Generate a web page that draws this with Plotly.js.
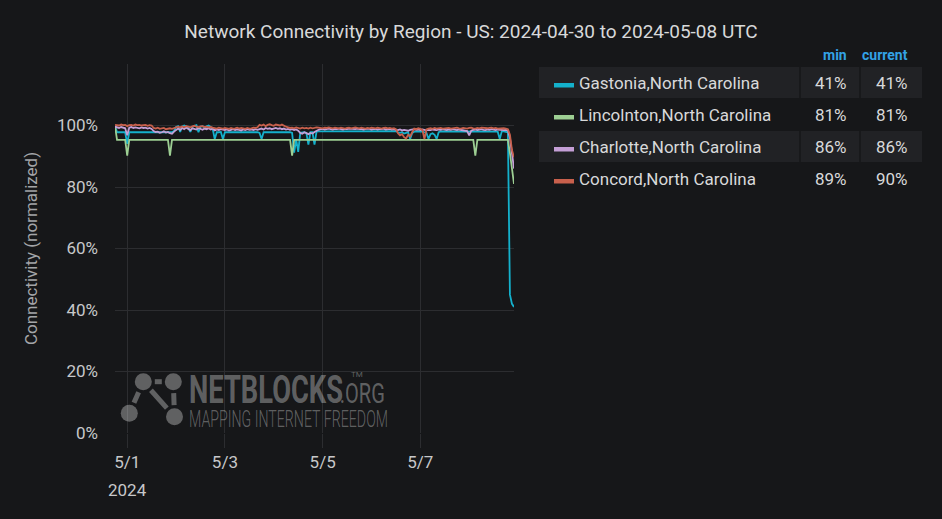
<!DOCTYPE html>
<html><head><meta charset="utf-8">
<script src="https://cdn.plot.ly/plotly-3.0.1.min.js"></script>
<style>html,body{margin:0;padding:0;background:#161719;}#chart{width:942px;height:519px;}</style>
</head><body><div id="chart"></div>
<script>
// ---------- data ----------
const regionNames = ['Gastonia,North Carolina','Lincolnton,North Carolina','Charlotte,North Carolina','Concord,North Carolina'];
const minValues = ['41%','81%','86%','89%'];
const currentValues = ['41%','81%','86%','90%'];
const startTime = Date.UTC(2024, 3, 30, 18, 0); // hourly samples from 2024-04-30 18:00 UTC
const xTickVals = ['2024-05-01','2024-05-03','2024-05-05','2024-05-07'];
const xTickText = ['5/1','5/3','5/5','5/7'];
const yTickVals = [0,20,40,60,80,100,120];
const yTickText = ['0%','20%','40%','60%','80%','100%',''];

const gastonia = [
99.9,97.8,97.8,97.9,97.8,97.8,94.0,97.8,97.8,97.9,
97.8,97.8,97.9,97.8,97.8,97.8,97.9,97.8,97.8,97.8,
97.8,97.9,97.8,97.8,97.8,97.9,97.8,97.8,97.8,98.2,
99.5,99.8,97.9,99.6,100.0,99.7,99.4,97.9,99.5,99.9,
100.1,97.8,99.6,99.8,99.3,99.7,100.0,99.5,98.8,95.6,
97.8,97.8,97.9,95.6,97.8,97.8,97.9,97.8,97.8,97.8,
97.9,97.8,97.8,97.8,97.9,97.8,97.8,97.8,97.9,97.8,
97.8,97.6,95.6,97.8,97.8,97.9,97.8,97.8,97.8,97.9,
97.8,97.8,97.8,97.9,97.8,97.8,97.8,97.6,91.2,95.5,
91.4,97.6,97.8,97.8,97.6,93.8,97.8,97.8,93.8,98.0,
98.1,98.1,98.2,98.1,98.1,98.0,98.1,98.1,98.2,98.1,
98.1,98.0,98.1,98.1,98.2,98.1,98.1,98.0,98.1,98.1,
98.2,98.1,98.1,98.0,98.1,98.1,98.2,98.1,98.1,98.0,
98.1,98.1,98.2,98.1,98.1,98.0,98.1,98.1,98.2,97.8,
97.6,97.8,97.4,97.6,97.8,95.6,97.6,98.0,98.1,98.1,
98.0,98.1,97.8,97.6,95.6,97.2,97.5,97.0,95.6,97.8,
98.1,98.1,98.2,98.1,98.1,98.0,98.1,98.1,98.2,98.1,
98.1,98.0,98.1,98.1,98.2,98.1,98.1,98.0,98.1,98.1,
98.2,98.1,98.1,98.0,98.1,98.1,98.2,98.1,98.0,95.6,
98.1,98.1,98.0,97.8,45.0,42.0,41.0];

const lincolnton = [
99.8,95.3,95.3,95.3,95.3,95.3,90.2,95.3,95.3,95.3,
95.3,95.3,95.3,95.3,95.3,95.3,95.3,95.3,95.3,95.3,
95.3,95.3,95.3,95.3,95.3,95.3,95.3,90.2,95.3,95.3,
95.3,95.3,95.3,95.3,95.3,95.3,95.3,95.3,95.3,95.3,
95.3,95.3,95.3,95.3,95.3,95.3,95.3,95.3,95.3,95.3,
95.3,95.3,95.3,95.3,95.3,95.3,95.3,95.3,95.3,95.3,
95.3,95.3,95.3,95.3,95.3,95.3,95.3,95.3,95.3,95.3,
95.3,95.3,95.3,95.3,95.3,95.3,95.3,95.3,95.3,95.3,
95.3,95.3,95.3,95.3,95.3,95.3,95.3,90.2,95.3,95.3,
95.3,95.3,95.3,95.3,95.3,95.3,95.3,95.3,95.3,95.3,
95.3,95.3,95.3,95.3,95.3,95.3,95.3,95.3,95.3,95.3,
95.3,95.3,95.3,95.3,95.3,95.3,95.3,95.3,95.3,95.3,
95.3,95.3,95.3,95.3,95.3,95.3,95.3,95.3,95.3,95.3,
95.3,95.3,95.3,95.3,95.3,95.3,95.3,95.3,95.3,95.3,
95.3,95.3,95.3,95.3,95.3,95.3,95.3,95.3,95.3,95.3,
95.3,95.3,95.3,95.3,95.3,95.3,95.3,95.3,95.3,95.3,
95.3,95.3,95.3,95.3,95.3,95.3,95.3,95.3,95.3,95.3,
95.3,95.3,95.3,95.3,95.3,95.3,95.3,90.2,95.3,95.3,
95.3,95.3,95.3,95.3,95.3,95.3,95.3,95.3,95.3,95.3,
95.3,95.3,95.3,95.3,91.0,86.0,81.0];

const charlotte = [
99.6,99.4,99.2,99.5,99.3,99.1,96.8,99.3,99.5,99.2,
99.4,99.3,99.1,99.4,99.2,99.3,99.0,99.2,98.9,98.2,
97.9,98.0,97.6,97.8,98.1,97.7,97.9,97.5,97.3,98.0,
98.6,99.0,98.6,99.2,98.8,99.3,98.9,98.5,99.1,99.0,
98.7,99.2,98.9,98.6,99.0,98.8,99.1,98.7,99.0,98.4,
98.7,98.5,98.8,98.6,98.5,98.7,98.4,98.6,98.8,98.5,
98.7,98.6,98.4,98.7,98.5,98.8,98.6,98.7,98.5,98.8,
98.6,98.8,99.0,98.7,99.2,98.9,99.1,98.8,99.0,99.2,
98.9,99.1,98.8,99.0,98.7,98.9,98.6,98.8,98.5,98.7,
98.3,97.6,97.3,97.8,97.5,97.2,97.6,97.4,97.9,98.3,
98.6,98.8,98.9,98.7,98.9,99.0,98.8,98.7,98.9,98.8,
99.0,98.8,98.7,98.9,98.8,99.0,98.9,98.7,98.8,99.0,
98.8,98.9,98.7,98.8,99.0,98.9,98.7,98.8,98.9,98.7,
98.9,98.8,99.0,98.7,98.8,98.9,98.7,98.8,98.6,98.5,
98.7,98.4,98.6,98.5,98.3,98.6,98.7,98.8,98.6,98.7,
98.5,98.7,98.6,98.4,98.6,98.5,98.7,98.6,98.5,98.7,
98.6,98.8,98.6,98.5,98.7,98.6,98.8,98.6,98.5,98.7,
98.6,98.4,98.5,98.2,96.8,98.3,98.6,98.7,98.5,98.6,
98.8,98.6,98.5,98.7,98.6,98.8,98.6,98.5,98.7,98.6,
98.7,98.5,98.6,98.4,96.0,91.0,86.0];

const concord = [
100.2,100.2,100.0,100.3,100.1,100.2,99.8,100.1,100.2,100.0,
100.3,100.1,100.2,100.0,100.1,100.2,99.9,100.1,100.0,99.2,
99.0,99.3,98.9,99.1,99.2,98.8,99.0,99.1,98.9,99.2,
99.4,99.6,99.4,99.7,99.5,99.8,99.6,99.4,99.7,99.9,
99.6,99.5,99.7,99.8,99.5,99.6,99.4,99.5,99.3,99.2,
99.0,99.3,99.1,99.0,99.2,99.1,98.9,99.2,99.0,99.1,
99.3,99.0,99.2,99.1,98.9,99.2,99.0,99.1,99.3,99.2,
99.4,100.2,100.0,100.3,99.8,100.2,100.4,100.1,99.9,100.3,
100.2,100.0,100.3,99.9,99.6,99.4,99.2,99.3,99.1,99.4,
99.2,99.0,99.3,99.1,99.2,99.0,99.3,99.1,99.2,99.4,
99.3,99.2,99.1,99.3,99.2,99.4,99.2,99.1,99.3,99.2,
99.1,99.3,99.2,99.0,99.2,99.3,99.1,99.2,99.4,99.2,
99.1,99.3,99.2,99.0,99.2,99.1,99.3,99.2,99.1,99.3,
99.2,99.0,99.2,99.3,99.1,99.2,99.0,99.1,98.8,97.5,
96.8,97.2,96.2,95.8,97.0,96.5,97.8,99.0,98.8,99.1,
98.9,98.6,95.6,98.7,99.0,99.1,98.9,99.2,99.0,99.1,
99.2,99.0,99.1,99.3,99.2,99.0,99.1,99.2,99.3,99.1,
99.0,99.2,99.1,99.0,99.2,99.3,99.1,99.0,99.2,99.1,
99.3,99.2,99.0,99.1,99.2,99.3,99.1,99.2,99.0,99.1,
99.2,99.1,99.0,98.8,97.0,92.0,89.7];

// ---------- styling ----------
const seriesColors = ['#14b1cc','#9dcf93','#c49fd6','#c8604c'];
const BG = '#161719';
const W = 942, H = 519, L = 115, R = 514, T = 64, B = 433;
const px = x => (x - L) / (R - L);
const py = y => (B - y) / (B - T);

const times = gastonia.map((_, i) => new Date(startTime + i * 3600e3).toISOString().slice(0,16).replace('T',' '));
const seriesValues = [gastonia, lincolnton, charlotte, concord];

const traces = seriesValues.map((vals, i) => ({
  type: 'scatter', mode: 'lines', x: times, y: vals, name: regionNames[i],
  line: {color: seriesColors[i], width: 1.8}, hoverinfo: 'skip'
}));

const shapes = [];
const annotations = [];

// legend table
const rowY = i => 82.5 + 32 * i;
const cellFont = {family:'Roboto',size:17,color:'#d8d9da'};
annotations.push({xref:'paper',yref:'paper',x:px(849),y:py(55),xanchor:'right',yanchor:'middle',showarrow:false,
  text:'<b>min</b>',font:{family:'Roboto',size:14,color:'#33a2e5'}});
annotations.push({xref:'paper',yref:'paper',x:px(910),y:py(55),xanchor:'right',yanchor:'middle',showarrow:false,
  text:'<b>current</b>',font:{family:'Roboto',size:14,color:'#33a2e5'}});
regionNames.forEach((name, i) => {
  const cy = rowY(i);
  if (i % 2 === 0) {
    shapes.push({type:'rect',xref:'paper',yref:'paper',x0:px(539),x1:px(922),y0:py(cy-15.5),y1:py(cy+15.5),
      fillcolor:'#212225',line:{width:0},layer:'below'});
    [800,860].forEach(sx => shapes.push({type:'line',xref:'paper',yref:'paper',x0:px(sx),x1:px(sx),y0:py(cy-15.5),y1:py(cy+15.5),
      line:{color:BG,width:1.5}}));
  }
  shapes.push({type:'rect',xref:'paper',yref:'paper',x0:px(554),x1:px(574),y0:py(cy+0.5),y1:py(cy+5),
    fillcolor:seriesColors[i],line:{width:0}});
  annotations.push({xref:'paper',yref:'paper',x:px(577),y:py(cy),xanchor:'left',yanchor:'middle',showarrow:false,
    text:name,font:cellFont});
  annotations.push({xref:'paper',yref:'paper',x:px(849),y:py(cy),xanchor:'right',yanchor:'middle',showarrow:false,
    text:minValues[i],font:cellFont});
  annotations.push({xref:'paper',yref:'paper',x:px(910),y:py(cy),xanchor:'right',yanchor:'middle',showarrow:false,
    text:currentValues[i],font:cellFont});
});

// year label under first date tick
annotations.push({xref:'x',yref:'paper',x:'2024-05-01',y:py(490),xanchor:'center',yanchor:'middle',showarrow:false,
  text:'2024',font:{family:'Roboto',size:17,color:'#c7c8ca'}});

// watermark (one text block)
const wm = 'rgba(255,255,255,0.32)';
annotations.push({xref:'paper',yref:'paper',x:px(187),y:py(399.5),xanchor:'left',yanchor:'middle',align:'left',showarrow:false,
  text:'<span style="font-size:39px;font-weight:bold">NETBLOCKS</span>' +
       '<span style="font-size:8px;baseline-shift:26px">TM</span>' +
       '<span style="font-size:28px">.ORG</span><br>' +
       '<span style="font-size:24px;font-weight:300">MAPPING INTERNET FREEDOM</span>',
  font:{family:'Roboto',size:18.5,color:wm}});
const nodes = {TL:[143.3,381.7],TR:[173.3,381.7],BL:[129.3,413.3],BR:[174.5,416.7]};
const rN = 8.5;
Object.values(nodes).forEach(([cx,cy]) => shapes.push({type:'circle',xref:'paper',yref:'paper',
  x0:px(cx-rN),x1:px(cx+rN),y0:py(cy+rN),y1:py(cy-rN),fillcolor:wm,line:{width:0}}));
[['TL','TR'],['BL','TL'],['TL','BR'],['TR','BR']].forEach(([a,b]) => {
  const [ax,ay] = nodes[a], [bx,by] = nodes[b];
  const d = Math.hypot(bx-ax, by-ay), g = rN + 3;
  const ux = (bx-ax)/d, uy = (by-ay)/d;
  shapes.push({type:'line',xref:'paper',yref:'paper',x0:px(ax+ux*g),y0:py(ay+uy*g),x1:px(bx-ux*g),y1:py(by-uy*g),
    line:{color:wm,width:5}});
});

const layout = {
  width: W, height: H,
  paper_bgcolor: BG, plot_bgcolor: BG,
  margin: {l: L, r: W - R, t: T, b: H - B, pad: 0},
  showlegend: false,
  title: {text: 'Network Connectivity by Region - US: 2024-04-30 to 2024-05-08 UTC',
    font: {family: 'Roboto', size: 19, color: '#d8d9da'},
    x: 0.5, xref: 'container', xanchor: 'center', y: 1 - 31/H, yref: 'container', yanchor: 'middle'},
  xaxis: {type: 'date', range: [times[0], times[times.length-1]],
    tickvals: xTickVals, ticktext: xTickText, ticks: 'outside', ticklen: 14, tickcolor: '#2c2d30', tickwidth: 1,
    showgrid: true, gridcolor: '#2c2d30', gridwidth: 1, zeroline: false, showline: false,
    tickfont: {family: 'Roboto', size: 17, color: '#c7c8ca'}},
  yaxis: {range: [0, 120], tickvals: yTickVals, ticktext: yTickText, ticks: '', ticklabelstandoff: 16,
    showgrid: true, gridcolor: '#2c2d30', gridwidth: 1, zeroline: false, showline: false,
    tickfont: {family: 'Roboto', size: 17, color: '#c7c8ca'},
    title: {text: 'Connectivity (normalized)', standoff: 14, font: {family: 'Roboto', size: 17, color: '#a3a5a8'}}},
  shapes: shapes, annotations: annotations
};

Plotly.newPlot('chart', traces, layout, {displayModeBar: false, staticPlot: true}).then(() => {
  const squeeze = {'NETBLOCKS': [154, 0], 'TM': [null, 8], '.ORG': [45, -23], 'MAPPING INTERNET FREEDOM': [199, 0]};
  document.querySelectorAll('#chart .annotation-text tspan').forEach(t => {
    const s = squeeze[t.textContent];
    if (!s) return;
    if (s[0]) { t.setAttribute('textLength', s[0]); t.setAttribute('lengthAdjust', 'spacingAndGlyphs'); }
    if (s[1]) t.setAttribute('dx', s[1]);
  });
});
</script></body></html>
